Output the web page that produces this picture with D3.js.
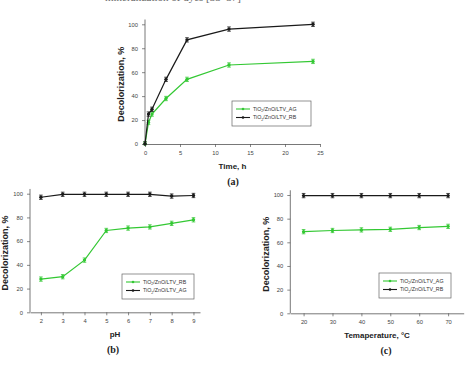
<!DOCTYPE html>
<html><head><meta charset="utf-8">
<script src="https://cdn.jsdelivr.net/npm/d3@7"></script>
<style>
html,body{margin:0;padding:0;background:#fff;}
svg{display:block;}
</style></head>
<body>
<svg id="chart" width="474" height="366"></svg>
<script>
// ---- Data ----
const timeH = [0, 0.5, 1, 3, 6, 12, 24];
const timeAG = [0, 18, 25, 38, 54, 66, 69];
const timeRB = [0, 25, 29, 54, 87, 96, 100];
const timeTicks = [0, 5, 10, 15, 20, 25];

const pH = [2, 3, 4, 5, 6, 7, 8, 9];
const pHRB = [28, 30, 44, 69, 71, 72, 75, 78];
const pHAG = [97, 99.5, 99.5, 99.5, 99.5, 99.5, 98, 98.5];
const pHTicks = [2, 3, 4, 5, 6, 7, 8, 9];

const temps = [20, 30, 40, 50, 60, 70];
const tempAG = [69, 70, 70.5, 71, 72.5, 73.5];
const tempRB = [99.5, 99.5, 99.5, 99.5, 99.5, 99.5];
const tempTicks = [20, 30, 40, 50, 60, 70];

const yTicks = [0, 20, 40, 60, 80, 100];
const errSize = 1.8;

const GREEN = "#33c833";
const BLACK = "#1a1a1a";
const svg = d3.select("#chart");

// cut-off text line at the top edge (continuation of the page above)
svg.append("text").attr("x", 105).attr("y", 0.5).attr("font-family", "Liberation Serif, serif")
  .attr("font-size", 11).attr("fill", "#666").text("mineralization of dyes [33–37]");

function panel(o) {
  const g = svg.append("g");
  const x = d3.scaleLinear().domain(o.xDomain).range([o.x0, o.x1]);
  const y = d3.scaleLinear().domain([0, 100]).range([o.yBottom, o.yTop]);
  const yAxisTop = y(104);

  const xa = g.append("g").attr("transform", `translate(0,${o.yBottom})`)
    .call(d3.axisBottom(x).tickValues(o.xTicks).tickSize(3).tickPadding(4).tickSizeOuter(0));
  xa.select(".domain").attr("stroke", "#555").attr("stroke-width", 0.8);
  xa.selectAll(".tick line").attr("stroke", "#555").attr("stroke-width", 0.7);
  xa.selectAll("text").attr("font-family", "Liberation Sans, Arial, sans-serif").attr("font-size", 5.8).attr("fill", "#444");

  const ya = g.append("g").attr("transform", `translate(${o.x0},0)`)
    .call(d3.axisLeft(y).tickValues(yTicks).tickSize(3).tickPadding(4).tickSizeOuter(0));
  ya.select(".domain").attr("d", `M0,${o.yBottom}V${yAxisTop}`).attr("stroke", "#555").attr("stroke-width", 0.8);
  ya.selectAll(".tick line").attr("stroke", "#555").attr("stroke-width", 0.7);
  ya.selectAll("text").attr("font-family", "Liberation Sans, Arial, sans-serif").attr("font-size", 5.8).attr("fill", "#444");

  o.series.forEach(s => {
    const pts = o.xs.map((v, i) => [v, s.values[i]]);
    const line = d3.line().x(d => x(d[0])).y(d => y(d[1]));
    g.append("path").attr("d", line(pts)).attr("fill", "none").attr("stroke", s.color).attr("stroke-width", 1.2);
    const eb = g.append("g");
    pts.forEach(d => {
      const cx = x(d[0]);
      const yt = y(Math.min(d[1] + errSize, 103)), yb = y(Math.max(d[1] - errSize, 0));
      eb.append("line").attr("x1", cx).attr("x2", cx).attr("y1", yt).attr("y2", yb).attr("stroke", s.color).attr("stroke-width", 0.8);
      eb.append("line").attr("x1", cx - 1.8).attr("x2", cx + 1.8).attr("y1", yt).attr("y2", yt).attr("stroke", s.color).attr("stroke-width", 0.8);
      eb.append("line").attr("x1", cx - 1.8).attr("x2", cx + 1.8).attr("y1", yb).attr("y2", yb).attr("stroke", s.color).attr("stroke-width", 0.8);
      eb.append("circle").attr("cx", cx).attr("cy", y(d[1])).attr("r", 1.7).attr("fill", s.color);
    });
  });

  const lg = g.append("g");
  lg.append("rect").attr("x", o.lx).attr("y", o.ly).attr("width", o.lw).attr("height", 25)
    .attr("fill", "#fff").attr("stroke", "#666").attr("stroke-width", 0.7);
  o.series.forEach((s, i) => {
    const ry = o.ly + 8 + i * 8.5;
    lg.append("line").attr("x1", o.lx + 4).attr("x2", o.lx + 18).attr("y1", ry).attr("y2", ry)
      .attr("stroke", s.color).attr("stroke-width", 1.1);
    lg.append("circle").attr("cx", o.lx + 11).attr("cy", ry).attr("r", 1.3).attr("fill", s.color);
    const t = lg.append("text").attr("x", o.lx + 21).attr("y", ry + 1.9)
      .attr("font-family", "Liberation Sans, Arial, sans-serif").attr("font-size", 5.3).attr("fill", "#333");
    t.append("tspan").text("TiO");
    t.append("tspan").attr("font-size", 3.6).attr("dy", 1.3).text("2");
    t.append("tspan").attr("dy", -1.3).text("/ZnO/" + s.name);
  });

  g.append("text").attr("x", (o.x0 + o.x1) / 2).attr("y", o.yBottom + 25).attr("text-anchor", "middle")
    .attr("font-family", "Liberation Sans, Arial, sans-serif").attr("font-weight", "bold").attr("font-size", 8)
    .attr("fill", "#222").text(o.xTitle);
  g.append("text").attr("transform", `translate(${o.ytX},${(o.yBottom + o.yTop) / 2}) rotate(-90)`)
    .attr("text-anchor", "middle")
    .attr("font-family", "Liberation Sans, Arial, sans-serif").attr("font-weight", "bold").attr("font-size", 9)
    .attr("fill", "#222").text("Decolorization, %");
  g.append("text").attr("x", o.labX).attr("y", o.yBottom + 41).attr("text-anchor", "middle")
    .attr("font-family", "Liberation Serif, Times New Roman, serif").attr("font-weight", "bold").attr("font-size", 10)
    .attr("fill", "#222").text(o.label);
}

panel({
  xs: timeH, xDomain: [0, 25], xTicks: timeTicks, x0: 145, x1: 320, yBottom: 144, yTop: 24.3,
  series: [{name: "LTV_AG", values: timeAG, color: GREEN}, {name: "LTV_RB", values: timeRB, color: BLACK}],
  lx: 232, ly: 101, lw: 79, xTitle: "Time, h", ytX: 124, label: "(a)", labX: 233
});
panel({
  xs: pH, xDomain: [1.5, 9.3], xTicks: pHTicks, x0: 30, x1: 200, yBottom: 312.3, yTop: 193.7,
  series: [{name: "LTV_RB", values: pHRB, color: GREEN}, {name: "LTV_AG", values: pHAG, color: BLACK}],
  lx: 122, ly: 274, lw: 72, xTitle: "pH", ytX: 8, label: "(b)", labX: 113
});
panel({
  xs: temps, xDomain: [15.4, 75.4], xTicks: tempTicks, x0: 290.3, x1: 463.7, yBottom: 313.3, yTop: 195,
  series: [{name: "LTV_AG", values: tempAG, color: GREEN}, {name: "LTV_RB", values: tempRB, color: BLACK}],
  lx: 379, ly: 273, lw: 72, xTitle: "Temaperature, °C", ytX: 269, label: "(c)", labX: 386
});
</script>
</body></html>
